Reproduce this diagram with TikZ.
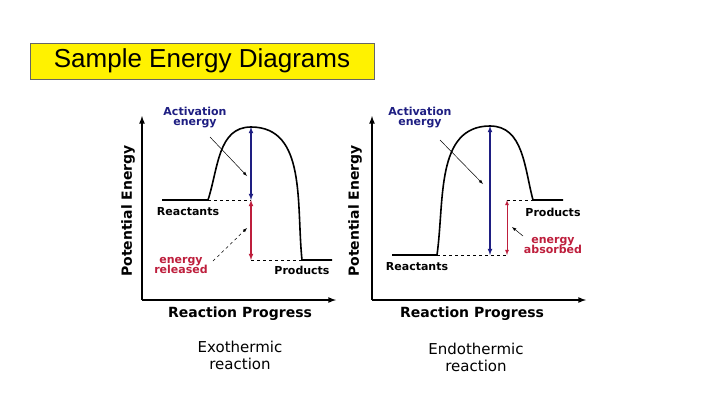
\documentclass[tikz,border=0pt]{standalone}
\usepackage{fontspec}
\setmainfont{DejaVu Sans}
\newfontfamily\titlefont{Liberation Sans}
\definecolor{dblue}{RGB}{30,30,130}
\definecolor{dred}{RGB}{190,30,60}
\begin{document}
\begin{tikzpicture}[x=1pt,y=-1pt,
  lab/.style={font=\bfseries\fontsize{11}{12}\selectfont,align=center,inner sep=0pt},
  axlab/.style={font=\bfseries\fontsize{14}{15}\selectfont,inner sep=0pt},
  capt/.style={font=\fontsize{15}{17}\selectfont,align=center,inner sep=0pt},
  axis/.style={line width=1.6pt,-latex},
  curve/.style={line width=1.6pt},
  dsh/.style={dashed,line width=0.6pt},
  ptr/.style={line width=0.5pt,-latex},
  barb/.style={line width=1.1pt,latex-latex}]
\useasboundingbox (0,0) rectangle (720,405);
\fill[white] (0,0) rectangle (720,405);
\node[fill=yellow,draw=black!60,line width=0.3pt,minimum width=344pt,minimum height=36pt,inner sep=0pt,font=\titlefont\fontsize{26}{28}\selectfont] (title) at (202,61) {Sample Energy Diagrams};
% ---------- left
\coordinate (lo) at (142,300);
\coordinate (ly) at (142,116);
\coordinate (lx) at (336,300);
\draw[axis] (lo) -- (ly);
\draw[axis] (lo) -- (lx);
\coordinate (r1) at (162,200); \coordinate (r2) at (208,200);
\coordinate (pk) at (251,127);
\coordinate (p1) at (302,260); \coordinate (p2) at (332,260);
\draw[curve] (r1) -- (r2) to[out=72,in=180] (pk) to[out=0,in=96] (p1) -- (p2);
\coordinate (d1) at (251,200); \coordinate (d2) at (251,260);
\draw[dsh] (r2) -- (d1); \draw[dsh] (d2) -- (p1);
\draw[barb,dblue] (pk) -- (d1);
\draw[barb,dred] (d1) -- (d2);
\node[lab,text=dblue] (la) at (195,118) {Activation\\[-2pt]energy};
\node[lab] (lr) at (188,212) {Reactants};
\node[lab,text=dred] (le) at (181,265) {energy\\[-2pt]released};
\node[lab] (lp) at (302,270) {Products};
\coordinate (a1) at (210,137); \coordinate (a2) at (247,176);
\draw[ptr] (a1) -- (a2);
\coordinate (b1) at (213,261); \coordinate (b2) at (247,228);
\draw[ptr,dashed] (b1) -- (b2);
\node[axlab,rotate=90] (lyl) at (128,211) {Potential Energy};
\node[axlab] (lxl) at (240,314) {Reaction Progress};
\node[capt] (lc) at (240,355) {Exothermic\\reaction};
% ---------- right
\coordinate (ro) at (372,300);
\coordinate (ry) at (372,116);
\coordinate (rx) at (586,300);
\draw[axis] (ro) -- (ry);
\draw[axis] (ro) -- (rx);
\coordinate (s1) at (392,255); \coordinate (s2) at (437,255);
\coordinate (qk) at (490,126);
\coordinate (t1) at (533,200); \coordinate (t2) at (563,200);
\draw[curve] (s1) -- (s2) to[out=82,in=180] (qk) to[out=0,in=105] (t1) -- (t2);
\coordinate (e1) at (490,255); \coordinate (e2) at (507,255); \coordinate (e3) at (507,200);
\draw[dsh] (s2) -- (e2); \draw[dsh] (e3) -- (t1);
\draw[barb,dblue] (qk) -- (e1);
\draw[barb,dred,line width=0.8pt] (e3) -- (e2);
\node[lab,text=dblue] (ra) at (420,118) {Activation\\[-2pt]energy};
\node[lab] (rr) at (417,267) {Reactants};
\node[lab] (rp) at (553,212) {Products};
\node[lab,text=dred] (re) at (553,245) {energy\\[-2pt]absorbed};
\coordinate (c1) at (440,140); \coordinate (c2) at (483,184);
\draw[ptr] (c1) -- (c2);
\coordinate (f1) at (523,236); \coordinate (f2) at (512,227);
\draw[ptr] (f1) -- (f2);
\node[axlab,rotate=90] (ryl) at (355,211) {Potential Energy};
\node[axlab] (rxl) at (472,314) {Reaction Progress};
\node[capt] (rc) at (476,357) {Endothermic\\reaction};
\end{tikzpicture}
\end{document}
